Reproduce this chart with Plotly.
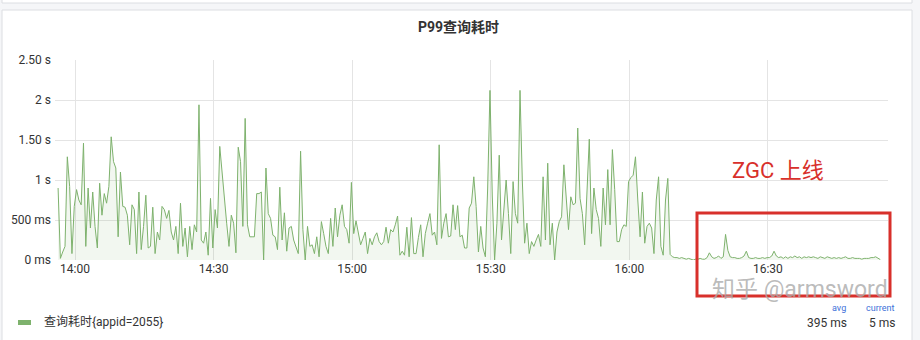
import pandas as pd
import plotly.graph_objects as go

# ---- data (seconds), one point every 30 s ----
seg1 = [0.90, 0.02, 0.10, 0.17, 1.29, 0.92, 0.08, 0.67, 0.88, 0.75, 0.69, 1.46, 0.17, 0.90, 0.40,
        0.85, 0.42, 0.15, 0.96, 0.56, 0.83, 0.71, 0.92, 1.54, 1.23, 1.15, 0.29, 1.10, 0.67, 0.66,
        0.56, 0.19, 0.69, 0.63, 0.08, 0.85, 0.13, 0.42, 0.81, 0.15, 0.17, 0.66, 0.08, 0.35, 0.25,
        0.67, 0.63, 0.52, 0.62, 0.35, 0.25, 0.42, 0.08, 0.71, 0.17, 0.40, 0.04, 0.42]
seg2 = [0.13, 0.44, 0.35, 1.94, 0.25, 0.21, 0.35, 0.06, 0.77, 0.15, 0.63, 0.40, 1.42, 1.08, 0.71,
        0.46, 0.17, 0.56, 0.46, 0.09, 1.41, 1.23, 0.42, 1.77, 0.44, 0.29, 0.29, 0.29, 0.83, 0.83,
        0.85, 0.00, 1.15, 0.58, 0.52, 0.31, 0.29, 0.13, 0.91, 0.25, 0.59, 0.11, 0.40, 0.42, 0.25,
        0.17, 0.08, 1.36, 0.38, 0.00, 0.42, 0.17, 0.19, 0.08, 0.29, 0.04, 0.48, 0.33]
seg3 = [0.17, 0.08, 0.52, 0.17, 0.65, 0.29, 0.56, 0.69, 0.42, 0.38, 0.21, 0.97, 0.33, 0.49, 0.33,
        0.19, 0.27, 0.35, 0.08, 0.27, 0.19, 0.29, 0.34, 0.23, 0.19, 0.23, 0.41, 0.21, 0.38, 0.35,
        0.44, 0.55, 0.06, 0.11, 0.06, 0.41, 0.04, 0.53, 0.08, 0.08, 0.28, 0.44, 0.04, 0.33, 0.46,
        0.58, 0.31, 0.35, 0.19, 1.44, 0.27, 0.46, 0.58, 0.29, 0.30, 0.69, 0.38, 0.68, 0.29]
seg4 = [0.31, 0.15, 0.15, 0.65, 0.71, 1.04, 0.67, 0.10, 0.42, 0.15, 0.04, 0.90, 2.12, 0.80, 0.00,
        0.46, 1.31, 0.25, 0.67, 1.00, 0.58, 0.08, 0.98, 0.58, 0.46, 2.12, 1.00, 0.21, 0.46, 0.08,
        0.23, 0.17, 0.25, 0.32, 0.17, 1.04, 0.25, 1.21, 0.19, 0.46, 0.00, 0.35, 0.48, 0.54, 1.19,
        0.71, 0.38, 0.79, 0.69, 0.71, 1.65, 0.77, 0.58, 0.19, 0.88, 1.51, 0.33, 0.90]
seg5 = [0.63, 0.52, 0.17, 0.90, 0.44, 1.13, 0.44, 1.38, 0.88, 0.23, 0.23, 0.38, 0.44, 0.42, 0.98,
        1.03, 1.06, 1.29, 0.75, 0.29, 0.85, 0.21, 0.42, 0.46, 0.40, 0.08, 0.75, 1.04, 0.17, 0.06,
        0.75, 1.02, 0.07]
zgc = [0.04, 0.03, 0.03, 0.02, 0.03, 0.02, 0.01, 0.02, 0.01, 0.00, 0.01, 0.01, 0.02, 0.01, 0.01,
       0.03, 0.09, 0.04, 0.02, 0.03, 0.05, 0.02, 0.04, 0.32, 0.12, 0.04, 0.03, 0.03, 0.02, 0.02,
       0.03, 0.05, 0.11, 0.03, 0.02, 0.02, 0.03, 0.02, 0.02, 0.03, 0.02, 0.03, 0.03, 0.05, 0.11,
       0.05, 0.03, 0.04, 0.02, 0.04, 0.02, 0.04, 0.03, 0.05, 0.03, 0.04, 0.02, 0.04, 0.03, 0.04,
       0.03, 0.04, 0.03, 0.02, 0.04, 0.03, 0.02, 0.04, 0.03, 0.02, 0.03, 0.02, 0.03, 0.02, 0.03,
       0.04, 0.02, 0.02, 0.03, 0.02, 0.02, 0.02, 0.01, 0.02, 0.02, 0.02, 0.03, 0.03, 0.04, 0.02,
       0.005]
values = seg1 + seg2 + seg3 + seg4 + seg5 + zgc
start_time = "2020-01-01 13:56:20"
times = pd.date_range(start_time, periods=len(values), freq="30s")

x_range = ["2020-01-01 13:55:40", "2020-01-01 16:56:00"]
x_ticks = ["2020-01-01 14:00", "2020-01-01 14:30", "2020-01-01 15:00",
           "2020-01-01 15:30", "2020-01-01 16:00", "2020-01-01 16:30"]
x_tick_text = ["14:00", "14:30", "15:00", "15:30", "16:00", "16:30"]
y_ticks = [0, 0.5, 1, 1.5, 2, 2.5]
y_tick_text = ["0 ms", "500 ms", "1 s", "1.50 s", "2 s", "2.50 s"]

title = "P99查询耗时"
series_name = "查询耗时{appid=2055}"
legend_avg = "395 ms"
legend_current = "5 ms"

FONT = "Roboto, 'Noto Sans CJK SC', sans-serif"
GREEN = "#7eb26d"
RED = "#d8302b"

W, H = 920, 340
L, R, T, B = 55, 32, 60, 80
PW, PH = W - L - R, H - T - B


def px(x):
    return (x - L) / PW


def py(y):
    return (H - B - y) / PH


fig = go.Figure()
fig.add_trace(go.Scatter(
    x=times, y=values, mode="lines", name=series_name,
    line=dict(color=GREEN, width=1),
    fill="tozeroy", fillcolor="rgba(126,178,109,0.10)",
    showlegend=False,
))

shapes = [
    # outer panel
    dict(type="rect", xref="paper", yref="paper", x0=px(2), x1=px(912), y0=py(345), y1=py(10),
         line=dict(color="#dcdee2", width=1), fillcolor="white", layer="below"),
    dict(type="rect", xref="paper", yref="paper", x0=px(2), x1=px(912), y0=py(3), y1=py(-10),
         line=dict(color="#dcdee2", width=1), fillcolor="white", layer="below"),
    # legend swatch
    dict(type="rect", xref="paper", yref="paper", x0=px(18), x1=px(31), y0=py(325), y1=py(320),
         line=dict(width=0), fillcolor=GREEN),
    # red highlight box
    dict(type="rect", xref="paper", yref="paper", x0=px(697), x1=px(890), y0=py(296), y1=py(213),
         line=dict(color=RED, width=3), fillcolor="rgba(0,0,0,0)", layer="above"),
]

annotations = [
    dict(text="<b>" + title + "</b>", xref="paper", yref="paper", x=px(458), y=py(27),
         showarrow=False, font=dict(family=FONT, size=14, color="#333333"),
         xanchor="center", yanchor="middle"),
    dict(text="ZGC 上线", xref="paper", yref="paper", x=px(778), y=py(170), showarrow=False,
         font=dict(family=FONT, size=22, color=RED), xanchor="center", yanchor="middle"),
    dict(text=series_name, xref="paper", yref="paper", x=px(42), y=py(322), showarrow=False,
         font=dict(family=FONT, size=12, color="#333333"), xanchor="left", yanchor="middle"),
    dict(text="avg", xref="paper", yref="paper", x=px(848), y=py(308), showarrow=False,
         font=dict(family=FONT, size=9, color="#3d71d9"), xanchor="right", yanchor="middle"),
    dict(text="current", xref="paper", yref="paper", x=px(896), y=py(308), showarrow=False,
         font=dict(family=FONT, size=9, color="#3d71d9"), xanchor="right", yanchor="middle"),
    dict(text=legend_avg, xref="paper", yref="paper", x=px(849), y=py(323), showarrow=False,
         font=dict(family=FONT, size=12, color="#333333"), xanchor="right", yanchor="middle"),
    dict(text=legend_current, xref="paper", yref="paper", x=px(897), y=py(323), showarrow=False,
         font=dict(family=FONT, size=12, color="#333333"), xanchor="right", yanchor="middle"),
    dict(text="知乎 @armsword", xref="paper", yref="paper", x=px(800), y=py(289), showarrow=False,
         font=dict(family=FONT, size=23, color="rgba(170,170,170,0.8)"),
         xanchor="center", yanchor="middle"),
]

fig.update_layout(
    width=W, height=H,
    margin=dict(l=L, r=R, t=T, b=B),
    paper_bgcolor="#f5f6f8", plot_bgcolor="white",
    font=dict(family=FONT, size=12, color="#464c54"),
    shapes=shapes, annotations=annotations,
    xaxis=dict(type="date", range=x_range, tickvals=x_ticks, ticktext=x_tick_text,
               showgrid=True, gridcolor="#e4e4e4", gridwidth=1, zeroline=False,
               showline=False, ticks="", tickfont=dict(size=12, color="#333333"),
               fixedrange=True),
    yaxis=dict(range=[0, 2.5], tickvals=y_ticks, ticktext=y_tick_text,
               showgrid=True, gridcolor="#e4e4e4", gridwidth=1, zeroline=False,
               showline=False, ticks="", ticklabelstandoff=3,
               tickfont=dict(size=12, color="#333333"), fixedrange=True),
)

fig.write_html("out.html")
